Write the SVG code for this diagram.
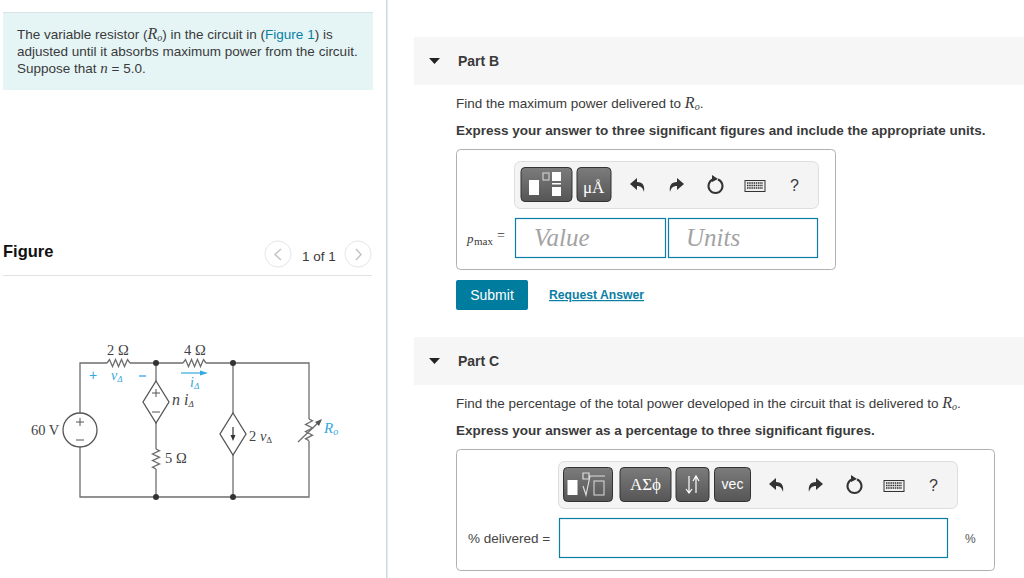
<svg xmlns="http://www.w3.org/2000/svg" width="1024" height="578" viewBox="0 0 1024 578">
<style>
text{font-family:"Liberation Sans",Arial,sans-serif;fill:#3a3a3a;font-size:13.500px}
.b{font-weight:bold}
.s{font-family:"Liberation Serif","Times New Roman",serif}
.i{font-style:italic}
.c{font-family:"Liberation Serif","Times New Roman",serif;font-size:14.500px;fill:#444}
.bl{fill:#35a8e0}
.w{fill:none;stroke:#6e6e6e;stroke-width:1.300}
.btn{fill:url(#g);stroke:#333;stroke-width:1}
.ic{fill:#333}
.wh{fill:#fff}
.tb{fill:#f4f4f4;stroke:#ddd;stroke-width:1}
.box{fill:#fff;stroke:#b0b0b0;stroke-width:1}
.inp{fill:#fff;stroke:#0a7ea4;stroke-width:1.200}
.hd{fill:#f6f6f6}
.ph{font-family:"Liberation Serif","Times New Roman",serif;font-style:italic;font-size:25px;fill:#a3a3a3}
</style>
<defs>
<linearGradient id="g" x1="0" y1="0" x2="0" y2="1"><stop offset="0" stop-color="#7c7c7c"/><stop offset="1" stop-color="#555"/></linearGradient>
<g id="tools">
<path class="ic" d="M0 6 L7 0 V4 C13 4 15 8 14 14 C13 10 11 8 7 8 V12 Z"/>
<path class="ic" d="M54 6 L47 0 V4 C41 4 39 8 40 14 C41 10 43 8 47 8 V12 Z"/>
<path d="M83 1.500 A7 7 0 1 0 88 1.500" fill="none" stroke="#333" stroke-width="2"/>
<path class="ic" d="M82 -3 L88 1 L82 4 Z"/>
<rect x="115" y="2.500" width="20" height="11" fill="#eee" stroke="#333"/>
<path d="M117 5H133M117 7.500H133M117 10H133" stroke="#333" stroke-width="1.300" stroke-dasharray="1.500 .7"/>
</g>
</defs>
<rect width="1024" height="578" fill="#fff"/>
<rect x="386" y="0" width="1.500" height="578" fill="#c9d8e8"/>

<g id="intro">
<rect x="3" y="13" width="370" height="77" fill="#e5f5f6"/>
<rect x="3" y="12" width="370" height="1" fill="#d9e2e4"/>
<text x="17" y="39">The variable resistor (<tspan class="s i" font-size="16" style="font-size:16px">R</tspan><tspan class="s i" style="font-size:10px" dy="2">o</tspan><tspan dy="-2">) in the circuit in (</tspan><tspan fill="#0a7ea4">Figure 1</tspan>) is</text>
<text x="17" y="56">adjusted until it absorbs maximum power from the circuit.</text>
<text x="17" y="73">Suppose that <tspan class="s i" style="font-size:15px">n</tspan> = 5.0.</text>
</g>

<g id="figure-header">
<text x="3" y="257" class="b" style="font-size:16.500px;fill:#111">Figure</text>
<circle cx="278" cy="254" r="13" fill="#fff" stroke="#e6e6e6"/>
<path d="M281 249 L275 254.500 L281 260" fill="none" stroke="#c4c4c4" stroke-width="1.500"/>
<text x="302" y="261">1 of 1</text>
<circle cx="358" cy="254" r="13" fill="#fff" stroke="#e6e6e6"/>
<path d="M356 249 L361 254.500 L356 260" fill="none" stroke="#c4c4c4" stroke-width="1.500"/>
<rect x="3" y="275" width="369" height="1" fill="#dfe3e6"/>
</g>

<g id="connectors">
<path class="w" d="M107 363H80V413M80 447V497H309V441M309 419V363H206M183 363H130M156 363V381M156 423V449M156 469V497M233 363V413M233 455V497"/>
<path class="w" d="M107 363l2.500-3.500 3 7 3-7 3 7 3-7 3 7 3-7 2.500 3.500M183 363l2.500-3.500 3 7 3-7 3 7 3-7 3 7 3-7 2.500 3.500M156 449l3.500 1.700-7 3.300 7 3.300-7 3.300 7 3.300-7 3.300 3.500 1.800M309 419l3.500 1.800-7 3.600 7 3.600-7 3.600 7 3.600-7 3.600 3.500 1.800"/>
<path d="M298 442L320 421" stroke="#6e6e6e" stroke-width="1.300"/>
<path d="M322 419l-7 3 4 4z" fill="#555"/>
<path d="M181 373H204" stroke="#35a8e0" stroke-width="1.200"/>
<path d="M208 373l-8-2.500v5z" fill="#35a8e0"/>
</g>

<g id="junctions" fill="#333">
<circle cx="156" cy="363" r="3"/><circle cx="233" cy="363" r="3"/><circle cx="156" cy="497" r="3"/><circle cx="233" cy="497" r="3"/>
</g>
<g id="source-60v">
<circle cx="80" cy="430" r="17" fill="#fff" stroke="#555" stroke-width="1.300"/>
<path d="M76 422H84M80 418V426M76 440H84" stroke="#555" stroke-width="1"/>
<text class="c" x="31" y="435">60 V</text>
</g>
<g id="r-2">
<text class="c" x="107" y="355">2 Ω</text>
<text class="bl" x="89" y="380" style="font-size:14px">+</text>
<text class="c i" x="111" y="380" style="fill:#35a8e0;font-size:14px">v<tspan style="font-size:9px" dy="2">Δ</tspan></text>
<path d="M139 376H146" stroke="#35a8e0" stroke-width="1.300"/>
</g>
<g id="r-4">
<text class="c" x="184" y="355">4 Ω</text>
<text class="c i" x="190" y="387" style="fill:#35a8e0;font-size:14px">i<tspan style="font-size:9px" dy="2">Δ</tspan></text>
</g>
<g id="src-ni">
<path d="M156 381L169 402L156 423L143 402Z" fill="#fff" stroke="#555" stroke-width="1.300"/>
<path d="M152 393H160M156 389V397M152 412H160" stroke="#555" stroke-width="1"/>
<text class="c i" x="172" y="405" style="font-size:16px">n i<tspan style="font-size:9px" dy="2">Δ</tspan></text>
</g>
<g id="r-5"><text class="c" x="165" y="463">5 Ω</text></g>
<g id="src-2v">
<path d="M233 413L246 434L233 455L220 434Z" fill="#fff" stroke="#555" stroke-width="1.300"/>
<path d="M233 427V438" stroke="#333" stroke-width="1.200"/><path d="M233 441l-2.500-6h5z" fill="#333"/>
<text class="c" x="249" y="441">2 <tspan class="i">v</tspan><tspan style="font-size:9px" dy="2">Δ</tspan></text>
</g>
<g id="r-o"><text class="c i bl" x="324" y="433" style="fill:#35a8e0;font-size:15px">R<tspan style="font-size:10px" dy="2">o</tspan></text></g>

<g id="part-b">
<rect class="hd" x="414" y="37" width="610" height="48"/>
<path d="M429 58H440L434.500 64Z" fill="#222"/>
<text x="458" y="66" class="b" style="font-size:14px">Part B</text>
<text x="456" y="108">Find the maximum power delivered to <tspan class="s i" style="font-size:16px">R</tspan><tspan class="s i" style="font-size:10px" dy="2">o</tspan><tspan dy="-2">.</tspan></text>
<text x="456" y="135" class="b" style="font-size:13.500px">Express your answer to three significant figures and include the appropriate units.</text>
<rect class="box" x="456.500" y="149.500" width="379" height="120" rx="4"/>
<rect class="tb" x="514.500" y="161.500" width="304" height="47" rx="6"/>
<rect class="btn" x="521" y="167.500" width="51" height="34" rx="4"/>
<rect class="wh" x="529" y="180" width="10" height="15"/>
<rect x="543" y="173" width="6" height="7" fill="none" stroke="#ddd"/>
<rect class="wh" x="552" y="172" width="9" height="9"/><rect class="wh" x="552" y="183" width="9" height="1.500"/><rect class="wh" x="552" y="187" width="9" height="9"/>
<rect class="btn" x="577" y="167.500" width="34" height="34" rx="4"/>
<text class="s" x="583" y="193" style="font-size:17px;fill:#fff">μÅ</text>
<use href="#tools" x="630" y="178"/>
<text x="790" y="191" style="font-size:16px">?</text>
<text class="s i" x="467" y="243" style="font-size:13px">p</text><text class="s" x="474" y="245" style="font-size:11px">max</text><text class="s" x="497" y="240" style="font-size:14px">=</text>
<rect class="inp" x="515.500" y="218.500" width="150" height="39"/>
<rect class="inp" x="668.500" y="218.500" width="149" height="39"/>
<text class="ph" x="534" y="246">Value</text>
<text class="ph" x="686" y="246">Units</text>
<rect x="456" y="280" width="72" height="30" rx="2" fill="#007c9e"/>
<text x="492" y="300" text-anchor="middle" style="fill:#fff;font-size:14px">Submit</text>
<text x="549" y="299" class="b" style="font-size:12.200px;fill:#0a7ea4;text-decoration:underline">Request Answer</text>
</g>

<g id="part-c">
<rect class="hd" x="414" y="337" width="610" height="48"/>
<path d="M429 358H440L434.500 364Z" fill="#222"/>
<text x="458" y="366" class="b" style="font-size:14px">Part C</text>
<text x="456" y="408">Find the percentage of the total power developed in the circuit that is delivered to <tspan class="s i" style="font-size:16px">R</tspan><tspan class="s i" style="font-size:10px" dy="2">o</tspan><tspan dy="-2">.</tspan></text>
<text x="456" y="435" class="b" style="font-size:13.500px">Express your answer as a percentage to three significant figures.</text>
<rect class="box" x="456.500" y="449.500" width="538" height="121" rx="4"/>
<rect class="tb" x="558.500" y="461.500" width="399" height="47" rx="6"/>
<rect class="btn" x="563.500" y="467.500" width="49" height="34" rx="4"/>
<rect class="wh" x="567.500" y="480" width="10" height="15"/>
<path d="M583 486L586 495L590 476H605M583 473V479H589V473Z" fill="none" stroke="#ddd" stroke-width="1.200"/>
<rect x="594" y="481" width="10" height="14" fill="none" stroke="#ddd"/>
<rect class="btn" x="620" y="467.500" width="51" height="34" rx="4"/>
<text class="s" x="645.500" y="490" text-anchor="middle" style="font-size:17px;fill:#fff">ΑΣϕ</text>
<rect class="btn" x="676" y="467.500" width="33" height="34" rx="4"/>
<path d="M689 476V492M686 489L689 493L692 489M696 493V477M693 481L696 476L699 481" fill="none" stroke="#fff" stroke-width="1.200"/>
<rect class="btn" x="714.500" y="467.500" width="36" height="34" rx="4"/>
<text x="732.500" y="489" text-anchor="middle" style="fill:#fff;font-size:14px">vec</text>
<use href="#tools" x="769" y="478"/>
<text x="929" y="491" style="font-size:16px">?</text>
<text x="468" y="543" style="fill:#444">% delivered =</text>
<rect class="inp" x="559.500" y="518.500" width="388" height="39"/>
<text x="965" y="543" style="font-size:12px;fill:#555">%</text>
</g>
</svg>
